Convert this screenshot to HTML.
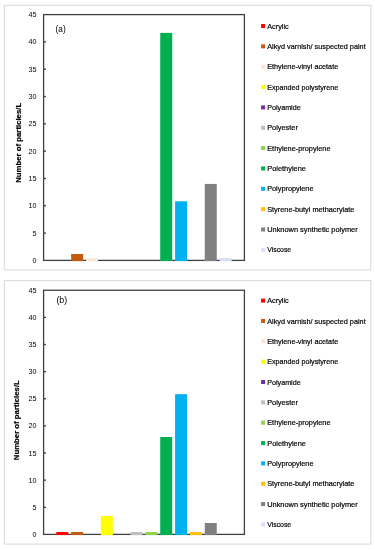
<!DOCTYPE html>
<html><head><meta charset="utf-8"><style>
html,body{margin:0;padding:0;background:#fff;width:375px;height:550px;overflow:hidden}
svg{display:block;will-change:transform;font-family:"Liberation Sans",sans-serif}
text{fill:#000;stroke:#000;stroke-width:0.2px} text.n{stroke:none}
</style></head><body>
<svg width="375" height="550" viewBox="0 0 375 550">
<rect x="4.3" y="5.30" width="366.5" height="264.60" fill="#fff" stroke="#DCDCDC" stroke-width="1.1"/>
<rect x="43.6" y="14.6" width="200.80" height="245.80" fill="none" stroke="#404040" stroke-width="1.3"/>
<rect x="71.15" y="254.01" width="12.0" height="7.04" fill="#C55A11"/>
<rect x="85.99" y="258.11" width="12.0" height="2.94" fill="#FBE5D6"/>
<rect x="160.23" y="32.90" width="12.0" height="228.15" fill="#00B050"/>
<rect x="175.08" y="201.30" width="12.0" height="59.75" fill="#00B0F0"/>
<rect x="204.77" y="183.93" width="12.0" height="77.12" fill="#808080"/>
<rect x="219.62" y="257.94" width="12.0" height="3.11" fill="#D8E0F6"/>
<text x="36.5" y="262.90" text-anchor="end" font-size="7.2" class="n">0</text>
<line x1="43.6" y1="233.09" x2="46.0" y2="233.09" stroke="#404040" stroke-width="1.3"/>
<text x="36.5" y="235.59" text-anchor="end" font-size="7.2" class="n">5</text>
<line x1="43.6" y1="205.78" x2="46.0" y2="205.78" stroke="#404040" stroke-width="1.3"/>
<text x="36.5" y="208.28" text-anchor="end" font-size="7.2" class="n">10</text>
<line x1="43.6" y1="178.47" x2="46.0" y2="178.47" stroke="#404040" stroke-width="1.3"/>
<text x="36.5" y="180.97" text-anchor="end" font-size="7.2" class="n">15</text>
<line x1="43.6" y1="151.16" x2="46.0" y2="151.16" stroke="#404040" stroke-width="1.3"/>
<text x="36.5" y="153.66" text-anchor="end" font-size="7.2" class="n">20</text>
<line x1="43.6" y1="123.84" x2="46.0" y2="123.84" stroke="#404040" stroke-width="1.3"/>
<text x="36.5" y="126.34" text-anchor="end" font-size="7.2" class="n">25</text>
<line x1="43.6" y1="96.53" x2="46.0" y2="96.53" stroke="#404040" stroke-width="1.3"/>
<text x="36.5" y="99.03" text-anchor="end" font-size="7.2" class="n">30</text>
<line x1="43.6" y1="69.22" x2="46.0" y2="69.22" stroke="#404040" stroke-width="1.3"/>
<text x="36.5" y="71.72" text-anchor="end" font-size="7.2" class="n">35</text>
<line x1="43.6" y1="41.91" x2="46.0" y2="41.91" stroke="#404040" stroke-width="1.3"/>
<text x="36.5" y="44.41" text-anchor="end" font-size="7.2" class="n">40</text>
<text x="36.5" y="17.10" text-anchor="end" font-size="7.2" class="n">45</text>
<text x="55.6" y="32.0" font-size="8.6" class="n" textLength="10.1" lengthAdjust="spacingAndGlyphs">(a)</text>
<text transform="translate(20.7 142.8) rotate(-90)" text-anchor="middle" font-size="7.8" font-weight="bold" textLength="80" lengthAdjust="spacingAndGlyphs">Number of particles/L</text>
<rect x="261.1" y="24.00" width="4" height="4" fill="#FF0000"/>
<text x="267.2" y="28.60" font-size="7.9" textLength="21.5" lengthAdjust="spacingAndGlyphs">Acrylic</text>
<rect x="261.1" y="44.35" width="4" height="4" fill="#C55A11"/>
<text x="267.2" y="48.95" font-size="7.9" textLength="98.5" lengthAdjust="spacingAndGlyphs">Alkyd varnish/ suspected paint</text>
<rect x="261.1" y="64.70" width="4" height="4" fill="#FBE5D6"/>
<text x="267.2" y="69.30" font-size="7.9" textLength="71" lengthAdjust="spacingAndGlyphs">Ethylene-vinyl acetate</text>
<rect x="261.1" y="85.05" width="4" height="4" fill="#FFFF00"/>
<text x="267.2" y="89.65" font-size="7.9" textLength="71" lengthAdjust="spacingAndGlyphs">Expanded polystyrene</text>
<rect x="261.1" y="105.40" width="4" height="4" fill="#7030A0"/>
<text x="267.2" y="110.00" font-size="7.9" textLength="33.5" lengthAdjust="spacingAndGlyphs">Polyamide</text>
<rect x="261.1" y="125.75" width="4" height="4" fill="#BFBFBF"/>
<text x="267.2" y="130.35" font-size="7.9" textLength="30.7" lengthAdjust="spacingAndGlyphs">Polyester</text>
<rect x="261.1" y="146.10" width="4" height="4" fill="#92D050"/>
<text x="267.2" y="150.70" font-size="7.9" textLength="63.3" lengthAdjust="spacingAndGlyphs">Ethylene-propylene</text>
<rect x="261.1" y="166.45" width="4" height="4" fill="#00B050"/>
<text x="267.2" y="171.05" font-size="7.9" textLength="38.7" lengthAdjust="spacingAndGlyphs">Polethylene</text>
<rect x="261.1" y="186.80" width="4" height="4" fill="#00B0F0"/>
<text x="267.2" y="191.40" font-size="7.9" textLength="46.3" lengthAdjust="spacingAndGlyphs">Polypropylene</text>
<rect x="261.1" y="207.15" width="4" height="4" fill="#FFC000"/>
<text x="267.2" y="211.75" font-size="7.9" textLength="87.2" lengthAdjust="spacingAndGlyphs">Styrene-butyl methacrylate</text>
<rect x="261.1" y="227.50" width="4" height="4" fill="#808080"/>
<text x="267.2" y="232.10" font-size="7.9" textLength="90.5" lengthAdjust="spacingAndGlyphs">Unknown synthetic polymer</text>
<rect x="261.1" y="247.85" width="4" height="4" fill="#D8E0F6"/>
<text x="267.2" y="252.45" font-size="7.9" textLength="24" lengthAdjust="spacingAndGlyphs">Viscose</text>
<rect x="4.3" y="280.60" width="366.5" height="263.50" fill="#fff" stroke="#DCDCDC" stroke-width="1.1"/>
<rect x="43.6" y="290.25" width="200.80" height="244.15" fill="none" stroke="#404040" stroke-width="1.3"/>
<rect x="56.30" y="532.01" width="12.0" height="3.04" fill="#FF0000"/>
<rect x="71.15" y="532.01" width="12.0" height="3.04" fill="#C55A11"/>
<rect x="100.84" y="516.01" width="12.0" height="19.04" fill="#FFFF00"/>
<rect x="130.53" y="532.01" width="12.0" height="3.04" fill="#BFBFBF"/>
<rect x="145.38" y="532.01" width="12.0" height="3.04" fill="#92D050"/>
<rect x="160.23" y="437.01" width="12.0" height="98.04" fill="#00B050"/>
<rect x="175.08" y="394.20" width="12.0" height="140.85" fill="#00B0F0"/>
<rect x="189.92" y="532.12" width="12.0" height="2.93" fill="#FFC000"/>
<rect x="204.77" y="523.01" width="12.0" height="12.04" fill="#808080"/>
<text x="36.5" y="536.90" text-anchor="end" font-size="7.2" class="n">0</text>
<line x1="43.6" y1="507.27" x2="46.0" y2="507.27" stroke="#404040" stroke-width="1.3"/>
<text x="36.5" y="509.77" text-anchor="end" font-size="7.2" class="n">5</text>
<line x1="43.6" y1="480.14" x2="46.0" y2="480.14" stroke="#404040" stroke-width="1.3"/>
<text x="36.5" y="482.64" text-anchor="end" font-size="7.2" class="n">10</text>
<line x1="43.6" y1="453.02" x2="46.0" y2="453.02" stroke="#404040" stroke-width="1.3"/>
<text x="36.5" y="455.52" text-anchor="end" font-size="7.2" class="n">15</text>
<line x1="43.6" y1="425.89" x2="46.0" y2="425.89" stroke="#404040" stroke-width="1.3"/>
<text x="36.5" y="428.39" text-anchor="end" font-size="7.2" class="n">20</text>
<line x1="43.6" y1="398.76" x2="46.0" y2="398.76" stroke="#404040" stroke-width="1.3"/>
<text x="36.5" y="401.26" text-anchor="end" font-size="7.2" class="n">25</text>
<line x1="43.6" y1="371.63" x2="46.0" y2="371.63" stroke="#404040" stroke-width="1.3"/>
<text x="36.5" y="374.13" text-anchor="end" font-size="7.2" class="n">30</text>
<line x1="43.6" y1="344.51" x2="46.0" y2="344.51" stroke="#404040" stroke-width="1.3"/>
<text x="36.5" y="347.01" text-anchor="end" font-size="7.2" class="n">35</text>
<line x1="43.6" y1="317.38" x2="46.0" y2="317.38" stroke="#404040" stroke-width="1.3"/>
<text x="36.5" y="319.88" text-anchor="end" font-size="7.2" class="n">40</text>
<text x="36.5" y="292.75" text-anchor="end" font-size="7.2" class="n">45</text>
<text x="56.4" y="302.8" font-size="8.6" class="n" textLength="10.9" lengthAdjust="spacingAndGlyphs">(b)</text>
<text transform="translate(19.1 420.2) rotate(-90)" text-anchor="middle" font-size="7.8" font-weight="bold" textLength="80" lengthAdjust="spacingAndGlyphs">Number of particles/L</text>
<rect x="261.1" y="298.60" width="4" height="4" fill="#FF0000"/>
<text x="267.2" y="303.20" font-size="7.9" textLength="21.5" lengthAdjust="spacingAndGlyphs">Acrylic</text>
<rect x="261.1" y="318.95" width="4" height="4" fill="#C55A11"/>
<text x="267.2" y="323.55" font-size="7.9" textLength="98.5" lengthAdjust="spacingAndGlyphs">Alkyd varnish/ suspected paint</text>
<rect x="261.1" y="339.30" width="4" height="4" fill="#FBE5D6"/>
<text x="267.2" y="343.90" font-size="7.9" textLength="71" lengthAdjust="spacingAndGlyphs">Ethylene-vinyl acetate</text>
<rect x="261.1" y="359.65" width="4" height="4" fill="#FFFF00"/>
<text x="267.2" y="364.25" font-size="7.9" textLength="71" lengthAdjust="spacingAndGlyphs">Expanded polystyrene</text>
<rect x="261.1" y="380.00" width="4" height="4" fill="#7030A0"/>
<text x="267.2" y="384.60" font-size="7.9" textLength="33.5" lengthAdjust="spacingAndGlyphs">Polyamide</text>
<rect x="261.1" y="400.35" width="4" height="4" fill="#BFBFBF"/>
<text x="267.2" y="404.95" font-size="7.9" textLength="30.7" lengthAdjust="spacingAndGlyphs">Polyester</text>
<rect x="261.1" y="420.70" width="4" height="4" fill="#92D050"/>
<text x="267.2" y="425.30" font-size="7.9" textLength="63.3" lengthAdjust="spacingAndGlyphs">Ethylene-propylene</text>
<rect x="261.1" y="441.05" width="4" height="4" fill="#00B050"/>
<text x="267.2" y="445.65" font-size="7.9" textLength="38.7" lengthAdjust="spacingAndGlyphs">Polethylene</text>
<rect x="261.1" y="461.40" width="4" height="4" fill="#00B0F0"/>
<text x="267.2" y="466.00" font-size="7.9" textLength="46.3" lengthAdjust="spacingAndGlyphs">Polypropylene</text>
<rect x="261.1" y="481.75" width="4" height="4" fill="#FFC000"/>
<text x="267.2" y="486.35" font-size="7.9" textLength="87.2" lengthAdjust="spacingAndGlyphs">Styrene-butyl methacrylate</text>
<rect x="261.1" y="502.10" width="4" height="4" fill="#808080"/>
<text x="267.2" y="506.70" font-size="7.9" textLength="90.5" lengthAdjust="spacingAndGlyphs">Unknown synthetic polymer</text>
<rect x="261.1" y="522.45" width="4" height="4" fill="#D8E0F6"/>
<text x="267.2" y="527.05" font-size="7.9" textLength="24" lengthAdjust="spacingAndGlyphs">Viscose</text>
</svg>
</body></html>
